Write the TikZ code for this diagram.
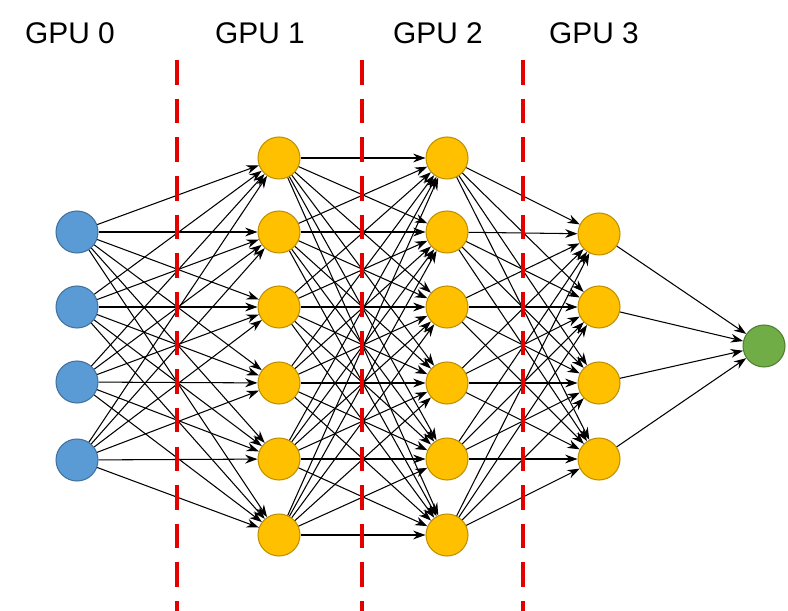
\documentclass[tikz,border=0pt]{standalone}
\usepackage{fontspec}
\setmainfont{Liberation Sans}
\usetikzlibrary{arrows.meta}

\definecolor{inblue}{HTML}{5B9BD5}
\definecolor{inblueline}{HTML}{41719C}
\definecolor{hidyellow}{HTML}{FFC000}
\definecolor{hidyellowline}{HTML}{BF9000}
\definecolor{outgreen}{HTML}{70AD47}
\definecolor{outgreenline}{HTML}{507E32}

\tikzstyle{neuron} = [circle, minimum size=0.84cm, inner sep=0pt, line width=0.6pt]
\tikzstyle{input} = [neuron, fill=inblue, draw=inblueline]
\tikzstyle{hidden} = [neuron, fill=hidyellow, draw=hidyellowline]
\tikzstyle{output} = [neuron, fill=outgreen, draw=outgreenline]
\tikzstyle{arrow} = [-{Stealth[length=7pt,width=5pt]}, line width=0.6pt]
\tikzstyle{split} = [red!90!black, line width=2.2pt, dash pattern=on 14pt off 8pt]
\tikzstyle{gpu} = [font=\fontsize{17}{20}\selectfont]

\begin{document}
\begin{tikzpicture}[x=0.02cm, y=-0.02cm]
\useasboundingbox (0,0) rectangle (788,611);

% layers
\foreach \y [count=\i] in {232,307,382,460}
  \node (i\i) [input] at (77,\y) {};
\foreach \y [count=\i] in {158,232,307,383,459,535} {
  \node (a\i) [hidden] at (279,\y) {};
  \node (b\i) [hidden] at (447,\y) {};
}
\foreach \y [count=\i] in {234,307,383,459}
  \node (c\i) [hidden] at (599,\y) {};
\node (o) [output] at (764,346) {};

% connections
\foreach \s in {1,...,4}
  \foreach \t in {1,...,6}
    \draw [arrow] (i\s) -- (a\t);
\foreach \s in {1,...,6}
  \foreach \t in {1,...,6}
    \draw [arrow] (a\s) -- (b\t);
\foreach \s in {1,...,6}
  \foreach \t in {1,...,4}
    \draw [arrow] (b\s) -- (c\t);
\foreach \s in {1,...,4}
  \draw [arrow] (c\s) -- (o);

% partitions
\foreach \x in {177,362,523}
  \draw [split] (\x,60) -- (\x,611);

\node [gpu] at (70,33) {GPU 0};
\node [gpu] at (260,33) {GPU 1};
\node [gpu] at (438,33) {GPU 2};
\node [gpu] at (594,33) {GPU 3};

\end{tikzpicture}
\end{document}
